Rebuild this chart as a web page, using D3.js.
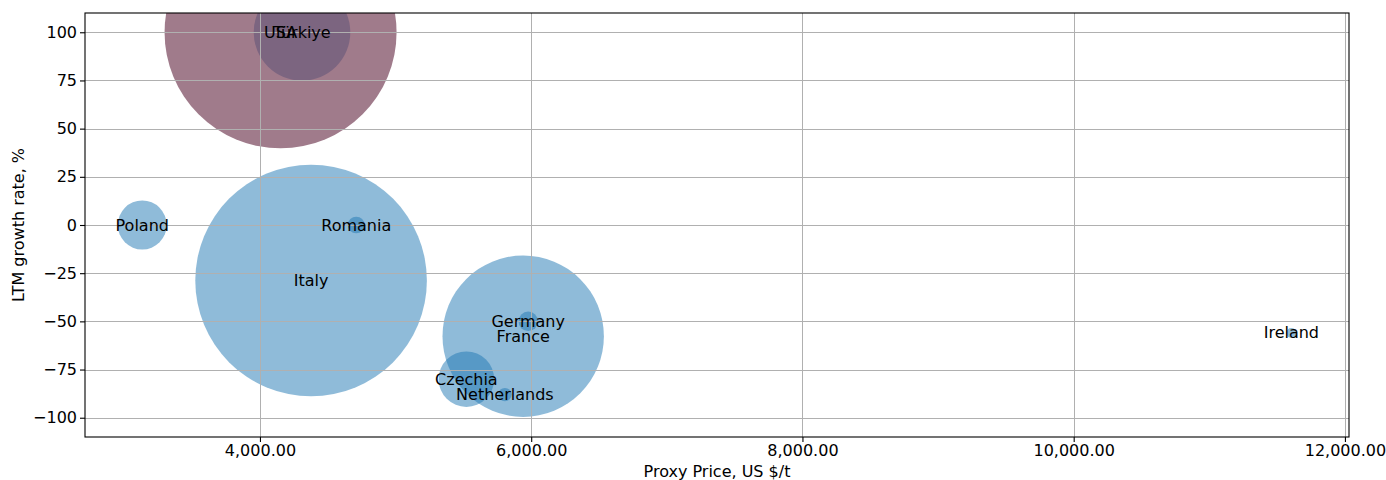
<!DOCTYPE html>
<html>
<head>
<meta charset="utf-8">
<script src="https://cdn.jsdelivr.net/npm/d3@7"></script>
<style>
    body { margin: 0; background: #fff; }
    text { font-family: "DejaVu Sans", sans-serif; }
</style>
</head>
<body>
<div id="chart"></div>
<script>
// countries, in drawing order
var countries = ["Poland", "Italy", "Romania", "France", "Germany", "Czechia",
                 "Netherlands", "Ireland", "USA", "Türkiye"];
// proxy price, US $/t
var prices = [3132, 4377, 4710, 5941, 5978, 5522, 5806, 11605, 4152, 4310];
// LTM growth rate, %
var growth = [0, -28.8, 0, -57.7, -50, -80, -88, -56, 100, 100];
// import volume (bubble size)
var volumes = [600, 13410, 70, 6512, 95, 770, 45, 25, 13456, 2333];
// colour group
var groups = ["eu", "eu", "eu", "eu", "eu", "eu", "eu", "eu", "usa", "tr"];

var xTicks = [4000, 6000, 8000, 10000, 12000];
var yTicks = [-100, -75, -50, -25, 0, 25, 50, 75, 100];

function init(){
    var W = 1386, H = 480;
    var m = {top: 13, right: 37, bottom: 43, left: 85};
    var w = W - m.left - m.right;
    var h = H - m.top - m.bottom;
    var fs = "16px";

    var xScale = d3.scaleLinear().domain([2710, 12030]).range([0, w]);
    var yScale = d3.scaleLinear().domain([-110, 110]).range([h, 0]);
    var rScale = d3.scaleSqrt().domain([0, d3.max(volumes)]).range([0, 116]);

    var fill = {eu: "#1f77b4", usa: "#a07b8b", tr: "#7c6580"};
    var alpha = {eu: 0.5, usa: 1, tr: 1};

    var svg = d3.select("#chart").append("svg")
        .attr("width", W).attr("height", H);

    svg.append("defs").append("clipPath").attr("id", "clip")
        .append("rect").attr("width", w).attr("height", h);

    var g = svg.append("g").attr("transform", "translate(" + m.left + "," + m.top + ")");

    // bubbles
    g.append("g").attr("clip-path", "url(#clip)")
        .selectAll("circle")
        .data(countries)
        .enter()
        .append("circle")
        .attr("cx", function(d, i){ return xScale(prices[i]); })
        .attr("cy", function(d, i){ return yScale(growth[i]); })
        .attr("r", function(d, i){ return rScale(volumes[i]); })
        .attr("fill", function(d, i){ return fill[groups[i]]; })
        .attr("fill-opacity", function(d, i){ return alpha[groups[i]]; });

    // grid drawn over the bubbles, like matplotlib
    var grid = g.append("g").attr("stroke", "#b0b0b0").attr("stroke-width", 1);
    grid.selectAll(".gx").data(xTicks).enter().append("line")
        .attr("x1", function(d){ return Math.round(xScale(d)) + 0.5; })
        .attr("x2", function(d){ return Math.round(xScale(d)) + 0.5; })
        .attr("y1", 0).attr("y2", h);
    grid.selectAll(".gy").data(yTicks).enter().append("line")
        .attr("y1", function(d){ return Math.round(yScale(d)) + 0.5; })
        .attr("y2", function(d){ return Math.round(yScale(d)) + 0.5; })
        .attr("x1", 0).attr("x2", w);

    // labels at bubble centres
    g.selectAll(".lbl")
        .data(countries)
        .enter()
        .append("text")
        .attr("x", function(d, i){ return xScale(prices[i]); })
        .attr("y", function(d, i){ return yScale(growth[i]); })
        .attr("text-anchor", "middle")
        .attr("dominant-baseline", "central")
        .attr("font-size", fs)
        .attr("fill", "#000")
        .text(function(d){ return d; });

    // axes
    var xAxis = d3.axisBottom(xScale).tickValues(xTicks)
        .tickFormat(d3.format(",.2f")).tickSize(5).tickPadding(3);
    var yAxis = d3.axisLeft(yScale).tickValues(yTicks)
        .tickFormat(d3.format("d")).tickSize(5).tickPadding(3);

    var gx = g.append("g").attr("transform", "translate(0," + h + ")").call(xAxis);
    var gy = g.append("g").call(yAxis);
    [gx, gy].forEach(function(a){
        a.select(".domain").remove();
        a.selectAll("line").attr("stroke", "#000").attr("stroke-width", 1.1);
        a.selectAll("text").attr("font-size", fs).attr("fill", "#000")
            .attr("font-family", "DejaVu Sans, sans-serif");
    });

    // frame
    g.append("rect").attr("width", w).attr("height", h)
        .attr("fill", "none").attr("stroke", "#000").attr("stroke-width", 1.1);

    // axis titles
    svg.append("text")
        .attr("x", m.left + w / 2).attr("y", 477)
        .attr("text-anchor", "middle")
        .attr("font-size", fs)
        .text("Proxy Price, US $/t");
    svg.append("text")
        .attr("transform", "translate(24," + (m.top + h / 2) + ") rotate(-90)")
        .attr("text-anchor", "middle")
        .attr("font-size", fs)
        .text("LTM growth rate, %");
}

window.onload = init;
</script>
</body>
</html>
